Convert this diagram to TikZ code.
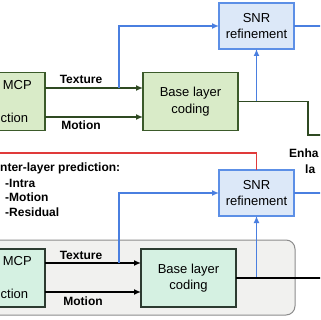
\documentclass[tikz,border=0pt]{standalone}
\usepackage{fontspec}
\setmainfont{Liberation Sans}
\usetikzlibrary{arrows.meta}
\definecolor{gfill}{HTML}{D9EBC8}
\definecolor{gdraw}{HTML}{3B5A2A}
\definecolor{gwire}{HTML}{2F4A22}
\definecolor{bwire}{HTML}{4A7FE0}
\definecolor{bfill}{HTML}{DCE8F8}
\definecolor{bdraw}{HTML}{5C8FE6}
\definecolor{rwire}{HTML}{E03A3A}
\definecolor{mfill}{HTML}{D5F1E2}
\definecolor{mdraw}{HTML}{2C3B30}
\definecolor{bgfill}{HTML}{F1F1EF}
\definecolor{bgdraw}{HTML}{8C8C8C}
\begin{document}
\begin{tikzpicture}[x=1pt, y=-1pt,
  every node/.style={font=\fontsize{13}{16.5}\selectfont},
  gbox/.style={draw=gdraw, fill=gfill, line width=1.3pt, inner sep=0pt, outer sep=0pt, minimum height=58pt},
  mbox/.style={draw=mdraw, fill=mfill, line width=1.3pt, inner sep=0pt, outer sep=0pt, minimum height=58pt},
  snrbox/.style={draw=bdraw, fill=bfill, line width=1.9pt, inner sep=0pt, outer sep=0pt,
    minimum width=75pt, minimum height=46pt, align=center},
  lbl/.style={font=\fontsize{12}{14.5}\selectfont\bfseries},
  cut/.style={inner sep=0pt},
  garrow/.style={line width=1.8pt, gwire, -{Latex[length=7pt,width=6pt]}},
  gline/.style={line width=1.8pt, gwire},
  karrow/.style={line width=1.8pt, black, -{Latex[length=7pt,width=6pt]}},
  kline/.style={line width=1.8pt, black},
  barrow/.style={line width=1.8pt, bwire, -{Latex[length=7pt,width=6pt]}},
  bline/.style={line width=1.8pt, bwire},
  rline/.style={line width=1.8pt, rwire}]
  \useasboundingbox (0,0) rectangle (320,320);
  \fill[white] (0,0) rectangle (320,320);
  \clip (0,0) rectangle (320,320);
  % Enhancement layer (top)
  \node[gbox, minimum width=85pt] (mcpT) at (2.5,101.5) {};
  \node[cut, anchor=east] (mcpT1) at (32,85) {MCP};
  \node[cut, anchor=west] (mcpT2) at (0.5,118) {ction};
  \node[gbox, minimum width=95pt, align=center] (baseT) at (190.5,101.5) {Base layer\\coding};
  \node[snrbox] (snrT) at (256.5,26) {SNR\\refinement};
  \draw[garrow] ([yshift=13.5pt]mcpT.east) -- ([yshift=13.5pt]baseT.west);
  \draw[garrow] ([yshift=-15.5pt]mcpT.east) -- ([yshift=-15.5pt]baseT.west);
  \node[lbl] (texT) at (81,79) {Texture};
  \node[lbl] (motT) at (81,125) {Motion};
  \coordinate (tapT) at (119,88);
  \draw[barrow] (tapT) |- (snrT.west);
  \draw[barrow] (snrT.south |- baseT.east) -- (snrT.south);
  \coordinate (outST) at (322,26);
  \draw[bline] (snrT.east) -- (outST);
  \coordinate (bendT) at (308,135);
  \coordinate (outT) at (322,135);
  \draw[gline] (baseT.east) -| (bendT) -- (outT);
  \node[lbl, cut, anchor=west] (enh) at (289,153) {Enha};
  \node[lbl, cut, anchor=west] (lay) at (305,169) {la};
  % Inter-layer prediction
  \node[lbl, cut, anchor=west] (ilp) at (0,168) {nter-layer prediction:};
  \node[lbl, cut, anchor=west] (ilp1) at (5,183) {-Intra};
  \node[lbl, cut, anchor=west] (ilp2) at (5,197.5) {-Motion};
  \node[lbl, cut, anchor=west] (ilp3) at (5,212) {-Residual};
  \node[snrbox] (snrB) at (256.5,193) {SNR\\refinement};
  \coordinate (redL) at (-2,153);
  \draw[rline] (redL) -| (snrB.north);
  % Base layer (bottom)
  \draw[bgdraw, fill=bgfill, line width=1pt, rounded corners=9pt] (-20,240) rectangle (295,315);
  \node[mbox, minimum width=85pt] (mcpB) at (2.5,278) {};
  \node[cut, anchor=east] (mcpB1) at (32,261) {MCP};
  \node[cut, anchor=west] (mcpB2) at (0.5,294) {ction};
  \node[mbox, minimum width=95pt, align=center] (baseB) at (188.5,278) {Base layer\\coding};
  \draw[karrow] ([yshift=15pt]mcpB.east) -- ([yshift=15pt]baseB.west);
  \draw[karrow] ([yshift=-14pt]mcpB.east) -- ([yshift=-14pt]baseB.west);
  \node[lbl] (texB) at (81,255) {Texture};
  \node[lbl] (motB) at (83,301) {Motion};
  \coordinate (tapB) at (119,263);
  \draw[barrow] (tapB) |- (snrB.west);
  \draw[barrow] (snrB.south |- baseB.east) -- (snrB.south);
  \coordinate (outSB) at (322,193);
  \draw[bline] (snrB.east) -- (outSB);
  \coordinate (outB) at (322,278);
  \draw[kline] (baseB.east) -- (outB);
\end{tikzpicture}
\end{document}
